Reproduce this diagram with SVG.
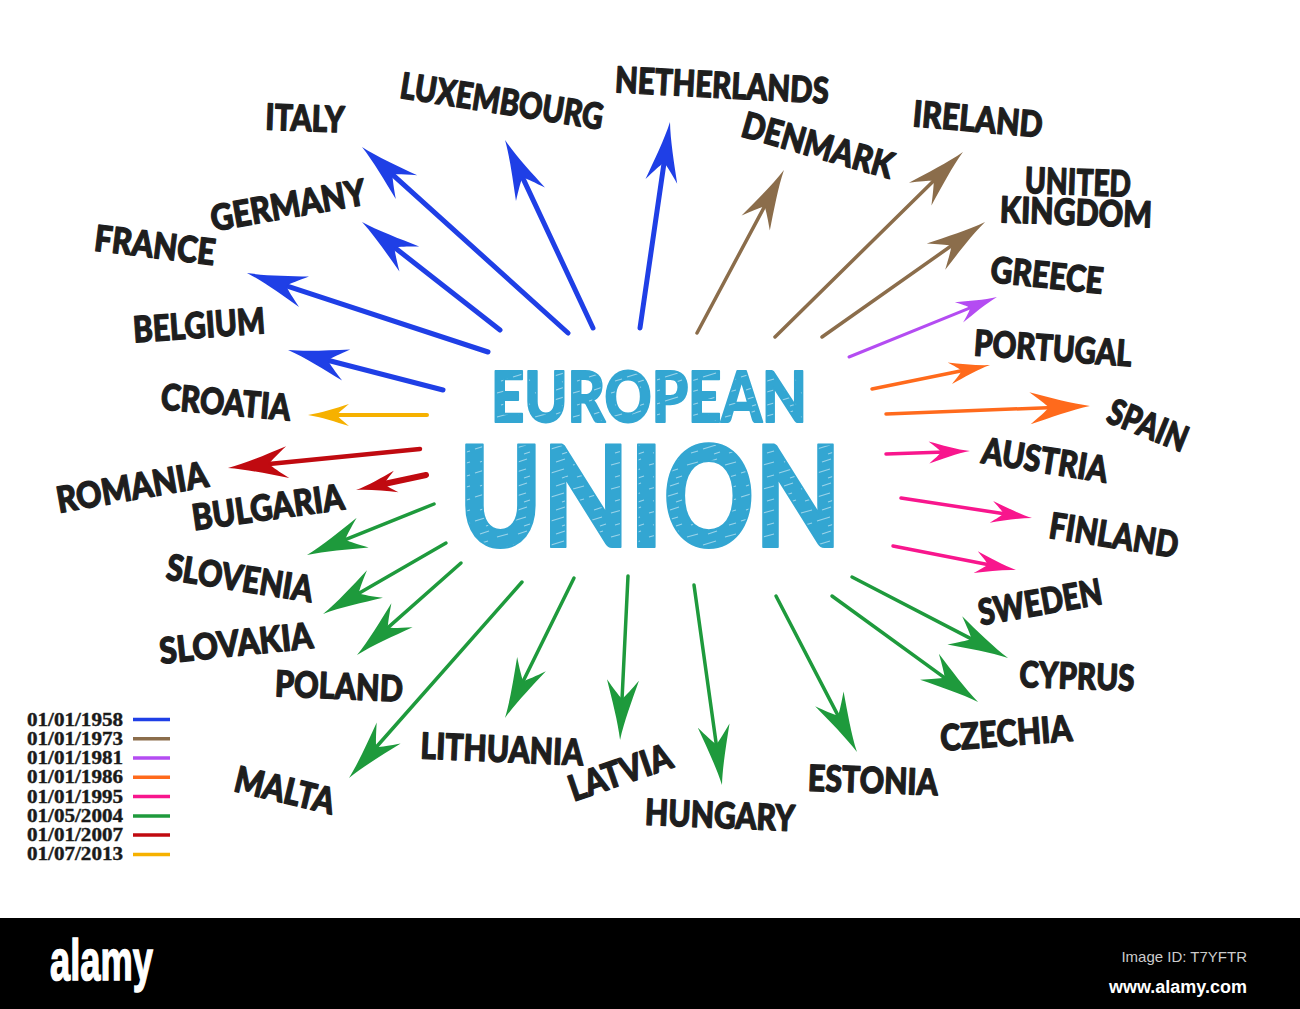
<svg xmlns="http://www.w3.org/2000/svg" width="1300" height="1009" viewBox="0 0 1300 1009">
<style>
.lbl{font-family:Lato,"Liberation Sans",sans-serif;font-weight:900;font-size:36px;fill:#1e1e1e;stroke:#1e1e1e;stroke-width:1.3;stroke-linejoin:round;text-anchor:middle;}
.ttl{font-family:Lato,"Open Sans","Liberation Sans",sans-serif;font-weight:900;fill:url(#chalk);stroke:#33a6d2;stroke-width:2;stroke-linejoin:round;text-anchor:middle;}
.leg{font-family:"Liberation Serif",serif;font-weight:bold;font-size:19px;fill:#1a1a1a;stroke:#1a1a1a;stroke-width:0.4;}
.sh{fill:none;stroke-linecap:round;}
.blue{stroke:#1f3fe6;stroke-width:5}
.brown{stroke:#8b6d4b;stroke-width:3.5}
.purple{stroke:#b44cf2;stroke-width:3}
.orange{stroke:#ff6a1c;stroke-width:3.5}
.pink{stroke:#f8168d;stroke-width:3.5}
.green{stroke:#1e9a3c;stroke-width:3.5}
.red{stroke:#c00a10;stroke-width:4.5}
.yellow{stroke:#f6b100;stroke-width:4}
</style>
<defs>
<pattern id="chalk" patternUnits="userSpaceOnUse" width="38" height="24">
<rect width="38" height="24" fill="#33a6d2"/>
<path d="M3,9 l11,-3 M19,17 l13,-4 M7,21 l7,-2 M24,6 l9,-3 M30,22 l6,-2" stroke="#ffffff" stroke-width="1.2" opacity="0.5" fill="none"/>
</pattern>
<path id="hL" d="M0,0 C-18,-3 -40,-10 -60,-16 C-51,-9 -45,-4 -41,0 C-45,4 -51,9 -60,16 C-40,10 -18,3 0,0Z"/>
<path id="hS" d="M0,0 C-13,-2 -28,-7 -41,-11 C-35,-6 -31,-3 -29,0 C-31,3 -35,6 -41,11 C-28,7 -13,2 0,0Z"/>
<marker id="mBlue" markerUnits="userSpaceOnUse" orient="auto" refX="-36" refY="0" markerWidth="80" markerHeight="40" overflow="visible"><use href="#hL" fill="#1f3fe6"/></marker>
<marker id="mBrown" markerUnits="userSpaceOnUse" orient="auto" refX="-36" refY="0" markerWidth="80" markerHeight="40" overflow="visible"><use href="#hL" fill="#8b6d4b"/></marker>
<marker id="mPurple" markerUnits="userSpaceOnUse" orient="auto" refX="-25" refY="0" markerWidth="60" markerHeight="30" overflow="visible"><use href="#hS" fill="#b44cf2"/></marker>
<marker id="mOrangeS" markerUnits="userSpaceOnUse" orient="auto" refX="-25" refY="0" markerWidth="60" markerHeight="30" overflow="visible"><use href="#hS" fill="#ff6a1c"/></marker>
<marker id="mOrangeL" markerUnits="userSpaceOnUse" orient="auto" refX="-36" refY="0" markerWidth="80" markerHeight="40" overflow="visible"><use href="#hL" fill="#ff6a1c"/></marker>
<marker id="mPink" markerUnits="userSpaceOnUse" orient="auto" refX="-25" refY="0" markerWidth="60" markerHeight="30" overflow="visible"><use href="#hS" fill="#f8168d"/></marker>
<marker id="mGreen" markerUnits="userSpaceOnUse" orient="auto" refX="-36" refY="0" markerWidth="80" markerHeight="40" overflow="visible"><use href="#hL" fill="#1e9a3c"/></marker>
<marker id="mRedL" markerUnits="userSpaceOnUse" orient="auto" refX="-36" refY="0" markerWidth="80" markerHeight="40" overflow="visible"><use href="#hL" fill="#c00a10"/></marker>
<marker id="mRedS" markerUnits="userSpaceOnUse" orient="auto" refX="-25" refY="0" markerWidth="60" markerHeight="30" overflow="visible"><use href="#hS" fill="#c00a10"/></marker>
<marker id="mYellow" markerUnits="userSpaceOnUse" orient="auto" refX="-25" refY="0" markerWidth="60" markerHeight="30" overflow="visible"><use href="#hS" fill="#f6b100"/></marker>
</defs>
<rect width="1300" height="1009" fill="#ffffff"/>

<g id="connectors">
<line class="sh blue" x1="568" y1="333" x2="388.7" y2="171.1" marker-end="url(#mBlue)"/>
<line class="sh blue" x1="593" y1="328" x2="520.3" y2="172.6" marker-end="url(#mBlue)"/>
<line class="sh blue" x1="640" y1="328" x2="664.8" y2="157.6" marker-end="url(#mBlue)"/>
<line class="sh blue" x1="500" y1="330" x2="390.4" y2="244.2" marker-end="url(#mBlue)"/>
<line class="sh blue" x1="488" y1="352" x2="281.2" y2="284.2" marker-end="url(#mBlue)"/>
<line class="sh blue" x1="443" y1="390" x2="322.9" y2="359" marker-end="url(#mBlue)"/>
<line class="sh brown" x1="697" y1="333" x2="767" y2="201.8" marker-end="url(#mBrown)"/>
<line class="sh brown" x1="775" y1="337" x2="937.3" y2="177.2" marker-end="url(#mBrown)"/>
<line class="sh brown" x1="822" y1="337" x2="955.6" y2="242.8" marker-end="url(#mBrown)"/>
<line class="sh purple" x1="849" y1="357" x2="973.8" y2="306.4" marker-end="url(#mPurple)"/>
<line class="sh orange" x1="872" y1="389" x2="965.5" y2="370" marker-end="url(#mOrangeS)"/>
<line class="sh orange" x1="886" y1="414" x2="1054" y2="407.4" marker-end="url(#mOrangeL)"/>
<line class="sh pink" x1="886" y1="454" x2="945" y2="451.9" marker-end="url(#mPink)"/>
<line class="sh pink" x1="901" y1="498" x2="1007.3" y2="514.2" marker-end="url(#mPink)"/>
<line class="sh pink" x1="893" y1="546" x2="991.4" y2="565.2" marker-end="url(#mPink)"/>
<line class="sh green" x1="852" y1="577" x2="976.1" y2="641.4" marker-end="url(#mGreen)"/>
<line class="sh green" x1="832" y1="596" x2="948.9" y2="680.8" marker-end="url(#mGreen)"/>
<line class="sh green" x1="776" y1="596" x2="840.4" y2="720.1" marker-end="url(#mGreen)"/>
<line class="sh green" x1="694" y1="585" x2="717" y2="749.4" marker-end="url(#mGreen)"/>
<line class="sh green" x1="628" y1="576" x2="621.8" y2="704" marker-end="url(#mGreen)"/>
<line class="sh green" x1="574" y1="578" x2="520.9" y2="685.7" marker-end="url(#mGreen)"/>
<line class="sh green" x1="522" y1="582" x2="372.8" y2="751" marker-end="url(#mGreen)"/>
<line class="sh green" x1="461" y1="563" x2="384" y2="631.1" marker-end="url(#mGreen)"/>
<line class="sh green" x1="446" y1="543" x2="354.2" y2="596" marker-end="url(#mGreen)"/>
<line class="sh green" x1="434" y1="504" x2="340.4" y2="541.6" marker-end="url(#mGreen)"/>
<line class="sh red" x1="420" y1="449" x2="263.8" y2="464.5" marker-end="url(#mRedL)"/>
<line class="sh red" x1="426" y1="475" x2="380.5" y2="484.8" marker-end="url(#mRedS)" style="stroke-width:6"/>
<line class="sh yellow" x1="427" y1="415" x2="333" y2="415" marker-end="url(#mYellow)"/>
</g>

<g id="node-eu">
<text class="ttl" x="649" y="422" font-size="70" textLength="316" lengthAdjust="spacingAndGlyphs">EUROPEAN</text>
<text class="ttl" x="650" y="547" font-size="142" textLength="383" lengthAdjust="spacingAndGlyphs">UNION</text>
</g>

<g id="node-italy"><text class="lbl" x="305" y="118" dy="0.36em" transform="rotate(2 305 118)" textLength="79" lengthAdjust="spacingAndGlyphs">ITALY</text></g>
<g id="node-luxembourg"><text class="lbl" x="502" y="101" dy="0.36em" transform="rotate(9 502 101)" textLength="205" lengthAdjust="spacingAndGlyphs">LUXEMBOURG</text></g>
<g id="node-netherlands"><text class="lbl" x="722" y="85" dy="0.36em" transform="rotate(3 722 85)" textLength="214" lengthAdjust="spacingAndGlyphs">NETHERLANDS</text></g>
<g id="node-denmark"><text class="lbl" x="818" y="145" dy="0.36em" transform="rotate(16 818 145)" textLength="156" lengthAdjust="spacingAndGlyphs">DENMARK</text></g>
<g id="node-ireland"><text class="lbl" x="978" y="119" dy="0.36em" transform="rotate(5 978 119)" textLength="130" lengthAdjust="spacingAndGlyphs">IRELAND</text></g>
<g id="node-uk">
<text class="lbl" x="1078" y="182" dy="0.36em" transform="rotate(2 1078 182)" textLength="106" lengthAdjust="spacingAndGlyphs">UNITED</text>
<text class="lbl" x="1076" y="212" dy="0.36em" transform="rotate(2 1076 212)" textLength="152" lengthAdjust="spacingAndGlyphs">KINGDOM</text>
</g>
<g id="node-greece"><text class="lbl" x="1047" y="275" dy="0.36em" transform="rotate(6 1047 275)" textLength="113" lengthAdjust="spacingAndGlyphs">GREECE</text></g>
<g id="node-portugal"><text class="lbl" x="1053" y="348" dy="0.36em" transform="rotate(4 1053 348)" textLength="158" lengthAdjust="spacingAndGlyphs">PORTUGAL</text></g>
<g id="node-spain"><text class="lbl" x="1148" y="425" dy="0.36em" transform="rotate(22 1148 425)" textLength="83" lengthAdjust="spacingAndGlyphs">SPAIN</text></g>
<g id="node-austria"><text class="lbl" x="1045" y="460" dy="0.36em" transform="rotate(9 1045 460)" textLength="127" lengthAdjust="spacingAndGlyphs">AUSTRIA</text></g>
<g id="node-finland"><text class="lbl" x="1114" y="535" dy="0.36em" transform="rotate(9 1114 535)" textLength="130" lengthAdjust="spacingAndGlyphs">FINLAND</text></g>
<g id="node-sweden"><text class="lbl" x="1040" y="602" dy="0.36em" transform="rotate(-10 1040 602)" textLength="125" lengthAdjust="spacingAndGlyphs">SWEDEN</text></g>
<g id="node-cyprus"><text class="lbl" x="1077" y="676" dy="0.36em" transform="rotate(2 1077 676)" textLength="115" lengthAdjust="spacingAndGlyphs">CYPRUS</text></g>
<g id="node-czechia"><text class="lbl" x="1006" y="733" dy="0.36em" transform="rotate(-4.5 1006 733)" textLength="132" lengthAdjust="spacingAndGlyphs">CZECHIA</text></g>
<g id="node-estonia"><text class="lbl" x="873" y="780" dy="0.36em" transform="rotate(2 873 780)" textLength="130" lengthAdjust="spacingAndGlyphs">ESTONIA</text></g>
<g id="node-hungary"><text class="lbl" x="720" y="815" dy="0.36em" transform="rotate(2.5 720 815)" textLength="150" lengthAdjust="spacingAndGlyphs">HUNGARY</text></g>
<g id="node-latvia"><text class="lbl" x="620" y="772" dy="0.36em" transform="rotate(-19 620 772)" textLength="107" lengthAdjust="spacingAndGlyphs">LATVIA</text></g>
<g id="node-lithuania"><text class="lbl" x="502" y="749" dy="0.36em" transform="rotate(2.5 502 749)" textLength="163" lengthAdjust="spacingAndGlyphs">LITHUANIA</text></g>
<g id="node-malta"><text class="lbl" x="285" y="790" dy="0.36em" transform="rotate(13.5 285 790)" textLength="102" lengthAdjust="spacingAndGlyphs">MALTA</text></g>
<g id="node-poland"><text class="lbl" x="339" y="686" dy="0.36em" transform="rotate(2.5 339 686)" textLength="128" lengthAdjust="spacingAndGlyphs">POLAND</text></g>
<g id="node-slovakia"><text class="lbl" x="236" y="643" dy="0.36em" transform="rotate(-6 236 643)" textLength="154" lengthAdjust="spacingAndGlyphs">SLOVAKIA</text></g>
<g id="node-slovenia"><text class="lbl" x="240" y="578" dy="0.36em" transform="rotate(9 240 578)" textLength="148" lengthAdjust="spacingAndGlyphs">SLOVENIA</text></g>
<g id="node-bulgaria"><text class="lbl" x="268" y="507" dy="0.36em" transform="rotate(-8 268 507)" textLength="153" lengthAdjust="spacingAndGlyphs">BULGARIA</text></g>
<g id="node-romania"><text class="lbl" x="132" y="487" dy="0.36em" transform="rotate(-10 132 487)" textLength="153" lengthAdjust="spacingAndGlyphs">ROMANIA</text></g>
<g id="node-croatia"><text class="lbl" x="226" y="402" dy="0.36em" transform="rotate(5 226 402)" textLength="130" lengthAdjust="spacingAndGlyphs">CROATIA</text></g>
<g id="node-belgium"><text class="lbl" x="199" y="325" dy="0.36em" transform="rotate(-4 199 325)" textLength="132" lengthAdjust="spacingAndGlyphs">BELGIUM</text></g>
<g id="node-france"><text class="lbl" x="155" y="245" dy="0.36em" transform="rotate(7 155 245)" textLength="121" lengthAdjust="spacingAndGlyphs">FRANCE</text></g>
<g id="node-germany"><text class="lbl" x="288" y="205" dy="0.36em" transform="rotate(-10 288 205)" textLength="157" lengthAdjust="spacingAndGlyphs">GERMANY</text></g>

<g id="legend">
<text class="leg" x="27" y="725.5" textLength="96" lengthAdjust="spacingAndGlyphs">01/01/1958</text>
<text class="leg" x="27" y="744.8" textLength="96" lengthAdjust="spacingAndGlyphs">01/01/1973</text>
<text class="leg" x="27" y="764" textLength="96" lengthAdjust="spacingAndGlyphs">01/01/1981</text>
<text class="leg" x="27" y="783.3" textLength="96" lengthAdjust="spacingAndGlyphs">01/01/1986</text>
<text class="leg" x="27" y="802.6" textLength="96" lengthAdjust="spacingAndGlyphs">01/01/1995</text>
<text class="leg" x="27" y="821.9" textLength="96" lengthAdjust="spacingAndGlyphs">01/05/2004</text>
<text class="leg" x="27" y="841.1" textLength="96" lengthAdjust="spacingAndGlyphs">01/01/2007</text>
<text class="leg" x="27" y="860.4" textLength="96" lengthAdjust="spacingAndGlyphs">01/07/2013</text>
<line class="blue" x1="133" y1="719.5" x2="170" y2="719.5" style="stroke-width:3.5"/>
<line class="brown" x1="133" y1="738.8" x2="170" y2="738.8" style="stroke-width:3.5"/>
<line class="purple" x1="133" y1="758" x2="170" y2="758" style="stroke-width:3.5"/>
<line class="orange" x1="133" y1="777.3" x2="170" y2="777.3" style="stroke-width:3.5"/>
<line class="pink" x1="133" y1="796.6" x2="170" y2="796.6" style="stroke-width:3.5"/>
<line class="green" x1="133" y1="815.9" x2="170" y2="815.9" style="stroke-width:3.5"/>
<line class="red" x1="133" y1="835.1" x2="170" y2="835.1" style="stroke-width:3.5"/>
<line class="yellow" x1="133" y1="854.4" x2="170" y2="854.4" style="stroke-width:3.5"/>
</g>

<g id="watermark">
<rect x="0" y="918" width="1300" height="91" fill="#000000"/>
<text x="50" y="980" font-family="'Liberation Sans Narrow','Liberation Sans',sans-serif" font-weight="bold" font-size="58" fill="#ffffff" stroke="#ffffff" stroke-width="1.5" textLength="103" lengthAdjust="spacingAndGlyphs">alamy</text>
<text x="1247" y="962" font-family="'Liberation Sans Narrow','Liberation Sans',sans-serif" font-size="15" fill="#cccccc" text-anchor="end">Image ID: T7YFTR</text>
<text x="1247" y="993" font-family="'Liberation Sans Narrow','Liberation Sans',sans-serif" font-weight="bold" font-size="18" fill="#ffffff" text-anchor="end">www.alamy.com</text>
</g>
</svg>
